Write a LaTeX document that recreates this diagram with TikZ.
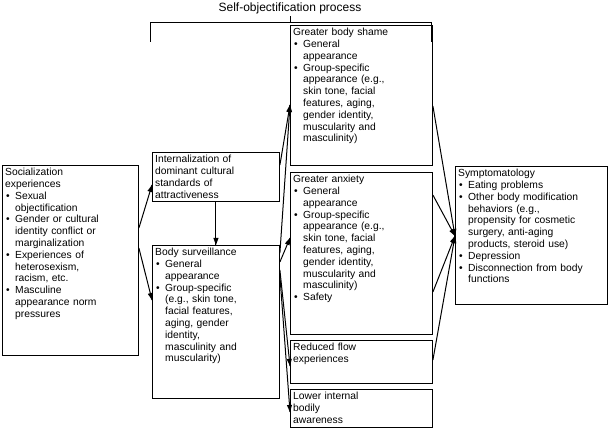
\documentclass[tikz,border=0pt]{standalone}
\usepackage{fontspec}
\setmainfont{Liberation Sans}
\usetikzlibrary{calc}
\newcommand\bi[1]{\par\hangindent=10pt\hangafter=1\makebox[10pt][l]{\hspace{1pt}\textbullet}#1}
\newcommand\arw[2]{\draw[line width=1pt] (#1) -- (#2);
  \fill ($(#2)!7pt!(#1)!2.6pt!90:(#2)$) -- (#2) -- ($(#2)!7pt!(#1)!2.6pt!-90:(#2)$) -- cycle;}
\begin{document}
\begin{tikzpicture}[x=1pt,y=-1pt,
  box/.style={draw,line width=0.9pt,anchor=north west,inner sep=0pt},
  txt/.style={anchor=north west,align=left,inner sep=0pt,font=\fontsize{10.3}{11.8}\selectfont}]
\useasboundingbox (0,0) rectangle (611,430);
\newcommand\bx[7]{\node[box,minimum width=#4,minimum height=#5] (#1) at (#2,#3) {};
  \node[txt,text width=#4-5pt] at ([xshift=3pt,yshift=-3pt]#1.north west) {#7\par};}
\bx{soc}{2}{165}{136}{190}{}{Socialization\newline experiences\bi{Sexual\newline objectification}\bi{Gender or cultural\newline identity conflict\ or\newline marginalization}\bi{Experiences of\newline heterosexism,\newline racism, etc.}\bi{Masculine\newline appearance norm\newline pressures}}
\bx{int}{152}{152}{127}{49}{}{Internalization of\newline dominant cultural\newline standards of\newline attractiveness}
\bx{sur}{152}{245}{127}{153}{}{Body surveillance\bi{General\newline appearance}\bi{Group-specific\newline (e.g., skin tone,\newline facial features,\newline aging, gender\newline identity,\newline masculinity and\newline muscularity)}}
\bx{sha}{290}{25}{142}{140}{}{Greater body shame\bi{General\newline appearance}\bi{Group-specific\newline appearance (e.g.,\newline skin tone, facial\newline features, aging,\newline gender identity,\newline muscularity and\newline masculinity)}}
\bx{anx}{290}{172}{142}{162}{}{Greater anxiety\bi{General\newline appearance}\bi{Group-specific\newline appearance (e.g.,\newline skin tone, facial\newline features, aging,\newline gender identity,\newline muscularity and\newline masculinity)}\bi{Safety}}
\bx{flo}{290}{340}{142}{43}{}{Reduced flow\newline experiences}
\bx{low}{290}{389}{142}{38}{}{Lower internal\newline bodily\newline awareness}
\bx{sym}{455}{166}{152}{138}{}{Symptomatology\bi{Eating problems}\bi{Other body modification\newline behaviors (e.g.,\newline propensity for cosmetic\newline surgery, anti-aging\newline products, steroid use)}\bi{Depression}\bi{Disconnection from body\newline functions}}
% bracket
\draw[line width=0.9pt] (150,42) -- (150,22) -- (431,22) -- (431,42);
\draw[line width=0.9pt] (290,22) -- (290,16);
\node[font=\fontsize{12}{14}\selectfont] (ttl) at (290,8) {Self-objectification process};
% coordinates
\coordinate (s1) at (soc.east |- 0,228);
\coordinate (s2) at (soc.east |- 0,248);
\coordinate (i1) at (int.west |- 0,185);
\coordinate (b1) at (sur.west |- 0,300);
\coordinate (i2) at (int.east |- 0,165);
\coordinate (h1) at (sha.west |- 0,105);
\coordinate (u1) at (sur.east |- 0,253);
\coordinate (u2) at (sur.east |- 0,262);
\coordinate (u3) at (sur.east |- 0,270);
\coordinate (u4) at (sur.east |- 0,276);
\coordinate (a1) at (anx.west |- 0,238);
\coordinate (f1) at (flo.west |- 0,366);
\coordinate (l1) at (low.west |- 0,412);
\coordinate (sin) at (sym.west |- 0,236);
\coordinate (h2) at (sha.east |- 0,106);
\coordinate (a2) at (anx.east |- 0,195);
\coordinate (a3) at (anx.east |- 0,292);
\coordinate (f2) at (flo.east |- 0,360);
\arw{s1}{i1}
\arw{s2}{b1}
\arw{int.south}{sur.north}
\arw{i2}{h1}
\arw{u1}{h1}
\arw{u2}{a1}
\arw{u3}{f1}
\arw{u4}{l1}
\arw{h2}{sin}
\arw{a2}{sin}
\arw{a3}{sin}
\arw{f2}{sin}
\end{tikzpicture}
\end{document}
